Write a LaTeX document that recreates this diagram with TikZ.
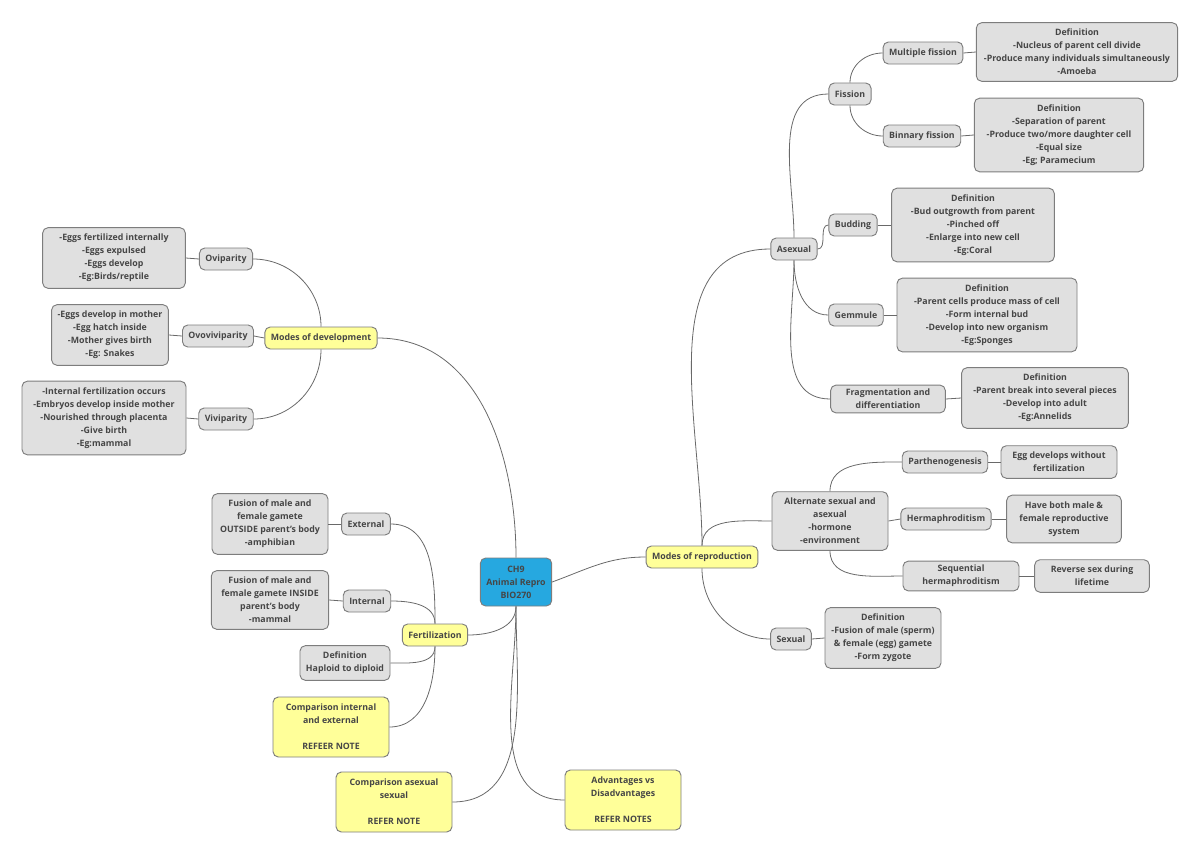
\documentclass[tikz,border=0pt]{standalone}
\usepackage{fontspec}
\setmainfont{Open Sans}
\usetikzlibrary{positioning}

\definecolor{boxgray}{RGB}{224,224,224}
\definecolor{boxline}{RGB}{125,125,125}
\definecolor{topic}{RGB}{255,255,153}
\definecolor{rootblue}{RGB}{38,168,224}
\definecolor{txt}{RGB}{70,70,70}
\definecolor{link}{RGB}{105,105,105}

\begin{document}
\begin{tikzpicture}[
  x=0.75pt, y=-0.75pt,
  font=\fontsize{6.6}{9.75}\selectfont\bfseries,
  box/.style={rectangle, rounded corners=4pt, draw=boxline, line width=0.7pt,
              fill=boxgray, text=txt, align=center, minimum height=16.5pt,
              inner xsep=4.5pt, inner ysep=3pt},
  sub/.style={box},
  leaf/.style={box, inner ysep=4.8pt},
  main/.style={box, fill=topic},
  core/.style={box, fill=rootblue},
  edge/.style={draw=link, line width=0.6pt}
]
\useasboundingbox (0,0) rectangle (1200,857);
% centre and main topics
\node[core, minimum width=52pt, minimum height=36pt] (root) at (516,582) {CH9\\Animal Repro\\BIO270};
\node[main] (mrep)   at (702,557) {Modes of reproduction};
\node[main] (mdev)   at (321,338) {Modes of development};
\node[main] (fert)   at (435,635) {Fertilization};
\node[main, minimum width=87pt, minimum height=45pt] (cmpas) at (394,802)
  {Comparison asexual\\sexual\\[9.75pt]REFER NOTE};
\node[main, minimum width=87pt, minimum height=45pt] (advdis) at (623,800)
  {Advantages vs\\Disadvantages\\[9.75pt]REFER NOTES};
\node[main, minimum width=87pt, minimum height=45pt] (cmpint) at (331,727)
  {Comparison internal\\and external\\[9.75pt]REFEER NOTE};
% modes of development
\node[sub]  (ovi)   at (226,259) {Oviparity};
\node[leaf, minimum width=107pt] (ovid)  at (114,258) {-Eggs fertilized internally\\-Eggs expulsed\\-Eggs develop\\-Eg:Birds/reptile};
\node[sub]  (ovo)   at (218,336) {Ovoviviparity};
\node[leaf, minimum width=85.5pt] (ovod)  at (110,335) {-Eggs develop in mother\\-Egg hatch inside\\-Mother gives birth\\-Eg: Snakes};
\node[sub]  (vivi)  at (226,419) {Viviparity};
\node[leaf, minimum width=123pt] (vivid) at (104,418) {-Internal fertilization occurs\\-Embryos develop inside mother\\-Nourished through placenta\\-Give birth\\-Eg:mammal};
% fertilization
\node[sub]  (ext)   at (366,524) {External};
\node[leaf, minimum width=87pt] (extd) at (270,524) {Fusion of male and\\female gamete\\OUTSIDE parent's body\\-amphibian};
\node[sub]  (intl)  at (367,601) {Internal};
\node[leaf, minimum width=88pt] (intd) at (270,600) {Fusion of male and\\female gamete INSIDE\\parent's body\\-mammal};
\node[leaf, minimum width=65pt] (fdef)  at (345,663) {Definition\\Haploid to diploid};
% asexual
\node[sub]  (asex)   at (794,249)  {Asexual};
\node[sub]  (fiss)   at (850,94)   {Fission};
\node[sub]  (mfiss)  at (923,53)   {Multiple fission};
\node[leaf, minimum width=151pt] (mfissd) at (1077,52)  {Definition\\-Nucleus of parent cell divide\\-Produce many individuals simultaneously\\-Amoeba};
\node[sub]  (bfiss)  at (922,136)  {Binnary fission};
\node[leaf, minimum width=127pt] (bfissd) at (1059,135) {Definition\\-Separation of parent\\-Produce two/more daughter cell\\-Equal size\\-Eg; Paramecium};
\node[sub]  (bud)    at (853,225)  {Budding};
\node[leaf, minimum width=122pt] (budd)   at (973,225)  {Definition\\-Bud outgrowth from parent\\-Pinched off\\-Enlarge into new cell\\-Eg:Coral};
\node[sub]  (gem)    at (856,315)  {Gemmule};
\node[leaf, minimum width=135pt] (gemd)   at (987,315)  {Definition\\-Parent cells produce mass of cell\\-Form internal bud\\-Develop into new organism\\-Eg:Sponges};
\node[sub, minimum width=86pt] (frag) at (888,399) {Fragmentation and\\differentiation};
\node[leaf, minimum width=125pt] (fragd)  at (1045,398) {Definition\\-Parent break into several pieces\\-Develop into adult\\-Eg:Annelids};
% alternate sexual and asexual
\node[sub, minimum width=87pt, inner ysep=4.8pt] (alt) at (830,521) {Alternate sexual and\\asexual\\-hormone\\-environment};
\node[sub]  (parth)  at (945,462)  {Parthenogenesis};
\node[leaf, minimum width=87pt] (parthd) at (1059,462) {Egg develops without\\fertilization};
\node[sub]  (herm)   at (946,519)  {Hermaphroditism};
\node[leaf, minimum width=86pt] (hermd)  at (1064,519) {Have both male \&\\female reproductive\\system};
\node[sub, minimum width=87pt] (seq) at (961,576) {Sequential\\hermaphroditism};
\node[leaf, minimum width=86pt] (seqd) at (1092,576) {Reverse sex during\\lifetime};
% sexual
\node[sub]  (sex)    at (791,639)  {Sexual};
\node[leaf, minimum width=87pt] (sexd)   at (883,638)  {Definition\\-Fusion of male (sperm)\\\& female (egg) gamete\\-Form zygote};

% connectors from the centre
\draw[edge] (root.north) to[out=90, in=0] (mdev.east);
\draw[edge] (root.east) to[out=20, in=180] (mrep.west);
\draw[edge] (root.south) to[out=-90, in=0] (fert.east);
\draw[edge] (root.south) to[out=-90, in=0] (cmpas.east);
\draw[edge] (root.south) to[out=-90, in=180] (advdis.west);
% development
\draw[edge] (mdev.north) to[out=90, in=0] (ovi.east);
\draw[edge] (mdev.west) -- (ovo.east);
\draw[edge] (mdev.south) to[out=-90, in=0] (vivi.east);
\foreach \s/\d in {ovi/ovid, ovo/ovod, vivi/vivid, ext/extd, intl/intd}
  \draw[edge] (\s.west) -- (\d.east);
% fertilization
\draw[edge] (fert.north) to[out=90, in=0] (ext.east);
\draw[edge] (fert.north) to[out=90, in=0] (intl.east);
\draw[edge] (fert.south) to[out=-90, in=0] (fdef.east);
\draw[edge] (fert.south) to[out=-90, in=0] (cmpint.east);
% reproduction
\draw[edge] (mrep.north) to[out=90, in=180] (asex.west);
\draw[edge] (mrep.north) to[out=90, in=180] (alt.west);
\draw[edge] (mrep.south) to[out=-90, in=180] (sex.west);
\draw[edge] (asex.north) to[out=90, in=180] (fiss.west);
\draw[edge] (asex.east) to[out=0, in=180] (bud.west);
\draw[edge] (asex.south) to[out=-90, in=180] (gem.west);
\draw[edge] (asex.south) to[out=-90, in=180] (frag.west);
\draw[edge] (fiss.north) to[out=90, in=180] (mfiss.west);
\draw[edge] (fiss.south) to[out=-90, in=180] (bfiss.west);
\draw[edge] (alt.north) to[out=90, in=180] (parth.west);
\draw[edge] (alt.east) -- (herm.west);
\draw[edge] (alt.south) to[out=-90, in=180] (seq.west);
\foreach \s/\d in {mfiss/mfissd, bfiss/bfissd, bud/budd, gem/gemd, frag/fragd,
                   parth/parthd, herm/hermd, seq/seqd, sex/sexd}
  \draw[edge] (\s.east) -- (\d.west);
\end{tikzpicture}
\end{document}
